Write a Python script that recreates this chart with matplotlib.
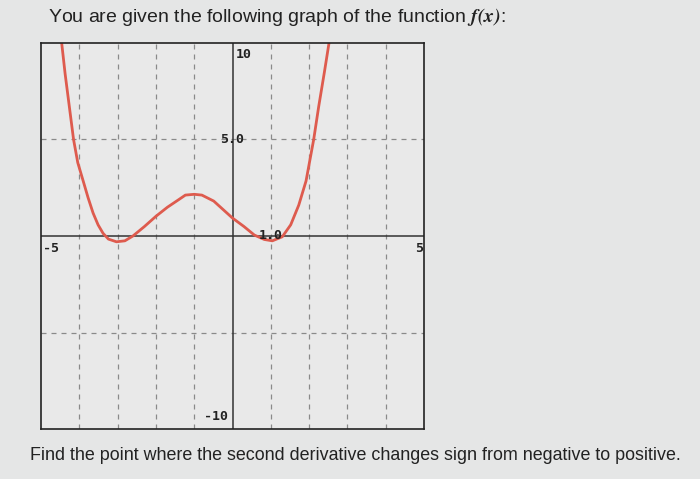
import matplotlib
matplotlib.use("Agg")
import matplotlib.pyplot as plt

curve_x = [-4.46, -4.37, -4.26, -4.15, -4.04, -3.90, -3.77, -3.64, -3.51, -3.38,
           -3.24, -3.03, -2.81, -2.60, -2.30, -2.00, -1.70, -1.40, -1.23, -1.00,
           -0.80, -0.49, -0.39, 0.0, 0.30, 0.57, 0.83, 1.04, 1.30, 1.52,
           1.73, 1.92, 2.12, 2.25, 2.40, 2.52]
curve_y = [10.0, 8.4, 6.7, 5.0, 3.8, 2.86, 1.98, 1.19, 0.58, 0.14,
           -0.16, -0.30, -0.25, 0.0, 0.49, 1.02, 1.49, 1.89, 2.12, 2.16,
           2.12, 1.81, 1.63, 0.93, 0.49, 0.05, -0.18, -0.25, -0.04, 0.58,
           1.60, 2.85, 5.0, 6.7, 8.5, 10.0]

grid_x = [-4, -3, -2, -1, 1, 2, 3, 4]
grid_y = [-5, 5]

title = "You are given the following graph of the function $\\mathbfit{f(x)}$:"
question = "Find the point where the second derivative changes sign from negative to positive."

plt.rcParams['mathtext.fontset'] = 'stix'

W, H = 700, 479
fig = plt.figure(figsize=(W / 100, H / 100), dpi=100)
fig.patch.set_facecolor('#e5e6e6')

ax = fig.add_axes([41 / W, 1 - 429 / H, 383 / W, 386 / H])
ax.set_facecolor('#e9e9e9')
ax.set_xlim(-5, 5)
ax.set_ylim(-10, 10)
ax.set_xticks([])
ax.set_yticks([])
for s in ax.spines.values():
    s.set_color('#222222')
    s.set_linewidth(1.2)

for gx in grid_x:
    ax.axvline(gx, color='#8a8a8a', lw=0.9, ls=(0, (4, 4)))
for gy in grid_y:
    ax.axhline(gy, color='#8a8a8a', lw=0.9, ls=(0, (4, 4)))
ax.axhline(0, color='#333333', lw=1.1)
ax.axvline(0, color='#333333', lw=1.1)

ax.plot(curve_x, curve_y, color='#de5b4e', lw=2.0, solid_capstyle='round',
        solid_joinstyle='round')

lab = dict(fontfamily='DejaVu Sans Mono', fontweight='bold', fontsize=9.5, color='#222222')
ax.text(0.08, 9.4, "10", ha='left', va='center', **lab)
ax.text(0, 5, "5.0", ha='center', va='center', **lab)
ax.text(1, 0, "1.0", ha='center', va='center', **lab)
ax.text(-4.95, -0.65, "-5", ha='left', va='center', **lab)
ax.text(4.97, -0.65, "5", ha='right', va='center', **lab)
ax.text(-0.12, -9.35, "-10", ha='right', va='center', **lab)

fig.text(48 / W, 1 - 17 / H, title, ha='left', va='center',
         fontfamily='Liberation Sans', fontsize=14, color='#222222')
fig.text(30 / W, 1 - 455 / H, question, ha='left', va='center',
         fontfamily='Liberation Sans', fontsize=12.9, color='#222222')

fig.savefig('out.png', dpi=100, facecolor=fig.get_facecolor())
